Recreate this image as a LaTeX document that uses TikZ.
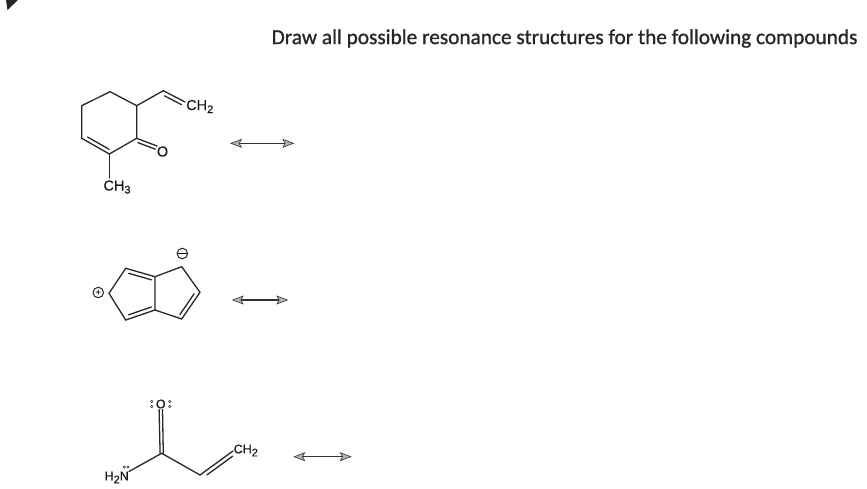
\documentclass[tikz,border=0pt]{standalone}
\usepackage{fontspec}
\setmainfont{Carlito}
\newfontfamily\chemf[FakeBold=0.4]{Liberation Sans}
\usetikzlibrary{arrows.meta,calc}
\tikzset{
  bond/.style={line width=1.3pt,black!85,line cap=round},
  atom/.style={font=\chemf\fontsize{14.5}{15}\selectfont,inner sep=0pt,text=black!90},
  smallatom/.style={font=\chemf\fontsize{12.5}{13}\selectfont,inner sep=0pt,text=black!90},
  charge/.style={circle,draw=black!85,line width=1pt,inner sep=0pt,minimum size=10.5pt,font=\chemf\fontsize{9}{9}\selectfont},
  reso/.style={line width=1.2pt,black!80,{Stealth[length=12pt,width=9pt,inset=2.5pt,fill=gray!60,line width=.6pt]}-{Stealth[length=12pt,width=9pt,inset=2.5pt,fill=gray!60,line width=.6pt]}},
  lonepair/.style={circle,draw=black!80,line width=.55pt,inner sep=0pt,minimum size=2.6pt},
  titletext/.style={font=\fontsize{21.3}{22}\selectfont,text=black!85,inner sep=0pt,anchor=west}
}
\newcommand{\inner}[3]{\draw[bond] ($(#1)!.14!(#2)!4pt!#3:(#2)$) -- ($(#2)!.08!(#1)!4pt!-#3:(#1)$);}
\newcommand{\subn}[1]{\raisebox{-3pt}{\fontsize{11}{11}\selectfont #1}}
\begin{document}
\begin{tikzpicture}[x=1pt,y=-1pt]
\useasboundingbox (0,0) rectangle (867,489);
\fill[black!85] (6,0) -- (18,0) -- (7.5,10) -- cycle;
\node[titletext] (title) at (271.5,38.5) {\addfontfeatures{FakeBold=1}Draw all possible resonance structures for the following compounds};
% molecule 1
\coordinate (a1) at (110,91.7);
\coordinate (a2) at (136.7,105.7);
\coordinate (a3) at (136.7,138.3);
\coordinate (a4) at (109.3,154);
\coordinate (a5) at (81.7,138.3);
\coordinate (a6) at (81.7,105.7);
\coordinate (v1) at (163.3,90.7);
\coordinate (v2) at (185,102);
\node[atom,anchor=west] (ch2a) at (186,106.5) {CH\subn{2}};
\node[atom] (oa) at (162.5,151.5) {O};
\node[atom] (ch3a) at (117,187) {CH\subn{3}};
\coordinate (ch3top) at (109.3,178);
\draw[bond] (a1)--(a2)--(a3)--(a4)--(a5)--(a6)--cycle;
\inner{a5}{a4}{90}
\draw[bond] (a2)--(v1)--(v2);
\inner{v1}{v2}{-90}
\draw[bond] (a4)--(ch3top);
\coordinate (o3) at (157,146);
\draw[bond] (a3)--(o3);
\draw[bond] ($(a3)!.12!(o3)!3.6pt!-90:(o3)$) -- ($(o3)!.02!(a3)!3.6pt!90:(a3)$);
\coordinate (r1l) at (230,143.3);
\coordinate (r1r) at (294.3,143.3);
\draw[reso] (r1l)--(r1r);
% molecule 2
\coordinate (b1) at (109,293.3);
\coordinate (b2) at (125.7,268.3);
\coordinate (b3) at (155,276.7);
\coordinate (b4) at (155,310);
\coordinate (b5) at (125.7,320);
\coordinate (b6) at (181.7,266.7);
\coordinate (b7) at (200,292.3);
\coordinate (b8) at (181.7,319);
\draw[bond] (b1)--(b2)--(b3)--(b4)--(b5)--cycle;
\draw[bond] (b3)--(b6)--(b7)--(b8)--(b4);
\inner{b2}{b3}{-90}
\inner{b5}{b4}{90}
\inner{b7}{b8}{-90}
\node[charge] (plus) at (98.3,292.5) {+};
\node[charge] (minus) at (182.3,253.5) {\rotatebox{90}{\textbar}};
\coordinate (r2l) at (231.7,300);
\coordinate (r2r) at (288.3,300);
\draw[reso] (r2l)--(r2r);
% molecule 3
\node[smallatom] (oc) at (160.7,404) {O};
\coordinate (c1) at (161.7,453.3);
\node[smallatom,anchor=east] (nc) at (129,477.5) {H\subn{2}N};
\coordinate (c2) at (200,475);
\coordinate (c3) at (233,451);
\node[smallatom,anchor=west] (ch2c) at (233.5,450.5) {CH\subn{2}};
\draw[bond] (oc.south)++(-1.6,1)--(160.1,453.3);
\draw[bond] (oc.south)++(1.8,1)--(163.3,453.3);
\draw[bond] (c1)--(nc.north east);
\draw[bond] (c1)--(c2)--(c3);
\inner{c2}{c3}{-90}
\foreach \n/\dx/\dy in {p1/-9/-2.5,p2/-9/2.5,p3/9/-2.5,p4/9/2.5}
  \node[lonepair] (\n) at ($(oc)+(\dx,\dy)$) {};
\node[lonepair] (n1) at (124.3,467) {};
\node[lonepair] (n2) at (128,467) {};
\coordinate (r3l) at (293.3,456.7);
\coordinate (r3r) at (351.7,456.7);
\draw[reso] (r3l)--(r3r);
\end{tikzpicture}
\end{document}
